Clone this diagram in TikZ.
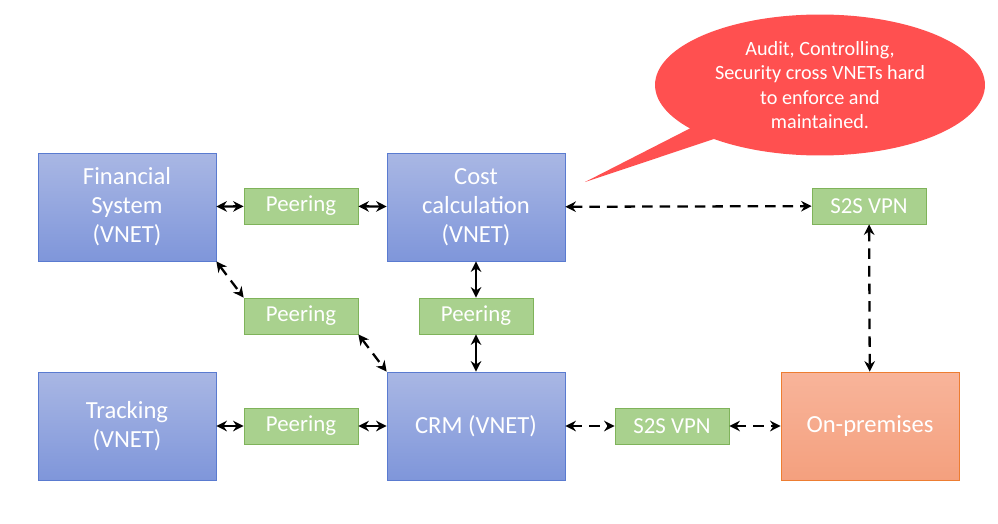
\documentclass[tikz,border=0pt]{standalone}
\usepackage{fontspec}
\setmainfont{Carlito}
\usetikzlibrary{shapes,shapes.callouts,arrows.meta,positioning}
\definecolor{vnetTop}{HTML}{A9B7E4}
\definecolor{vnetBot}{HTML}{7F96DA}
\definecolor{vnetLine}{HTML}{5A7BD0}
\definecolor{peerFill}{HTML}{A9D18E}
\definecolor{peerLine}{HTML}{7FB35A}
\definecolor{premTop}{HTML}{F8B49A}
\definecolor{premBot}{HTML}{F4A07E}
\definecolor{premLine}{HTML}{ED7D31}
\definecolor{noteFill}{HTML}{FF5050}
\tikzstyle{VNet} = [draw=vnetLine, rectangle, top color=vnetTop, bottom color=vnetBot, minimum width=3.56cm, minimum height=2.16cm, text=white, align=center, font=\fontsize{14}{16.5}\selectfont]
\tikzstyle{Prem} = [VNet, draw=premLine, top color=premTop, bottom color=premBot]
\tikzstyle{Peer} = [draw=peerLine, rectangle, fill=peerFill, minimum width=2.28cm, minimum height=0.72cm, text=white, font=\fontsize{13}{15}\selectfont]
\tikzstyle{Link} = [{Stealth[length=6pt,width=6pt]}-{Stealth[length=6pt,width=6pt]}, line width=1.3pt]
\tikzstyle{VPN} = [Link, dash pattern=on 6pt off 4pt]

\begin{document}
\begin{tikzpicture}[x=0.02cm, y=-0.02cm]
    \useasboundingbox (0,0) rectangle (998,524);
    \node[VNet] (financial) at (127,207) {Financial\\System\\(VNET)};
    \node[VNet] (cost)      at (476,207) {Cost\\calculation\\(VNET)};
    \node[VNet] (tracking)  at (127,426) {Tracking\\(VNET)};
    \node[VNet] (crm)       at (476,426) {CRM (VNET)};
    \node[Prem] (onprem)    at (870,426) {On-premises};
    \node[Peer] (p_fin_cost)   at (301,206) {Peering};
    \node[Peer] (p_fin_crm)    at (301,316) {Peering};
    \node[Peer] (p_cost_crm)   at (476,316) {Peering};
    \node[Peer] (p_track_crm)  at (301,426) {Peering};
    \node[Peer] (vpn_cost)     at (869,206) {S2S VPN};
    \node[Peer] (vpn_crm)      at (672,426) {S2S VPN};
    \node[ellipse callout, fill=noteFill, text=white, align=center,
          minimum width=6.6cm, minimum height=2.5cm, font=\fontsize{11.5}{14}\selectfont,
          callout pointer arc=12, callout absolute pointer={(585,182)}] (note) at (820,85)
          {Audit, Controlling,\\Security cross VNETs hard\\to enforce and\\maintained.};
    \draw[Link] (financial)  -- (p_fin_cost);
    \draw[Link] (p_fin_cost) -- (cost);
    \draw[Link] (tracking)   -- (p_track_crm);
    \draw[Link] (p_track_crm) -- (crm);
    \draw[Link] (cost)       -- (p_cost_crm);
    \draw[Link] (p_cost_crm) -- (crm);
    \draw[VPN] (financial.south east) -- (p_fin_crm.north west);
    \draw[VPN] (p_fin_crm.south east) -- (crm.north west);
    \draw[VPN] (cost)        -- (vpn_cost);
    \draw[VPN] (vpn_cost)    -- (onprem);
    \draw[VPN] (crm)         -- (vpn_crm);
    \draw[VPN] (vpn_crm)     -- (onprem);
  \end{tikzpicture}
\end{document}
